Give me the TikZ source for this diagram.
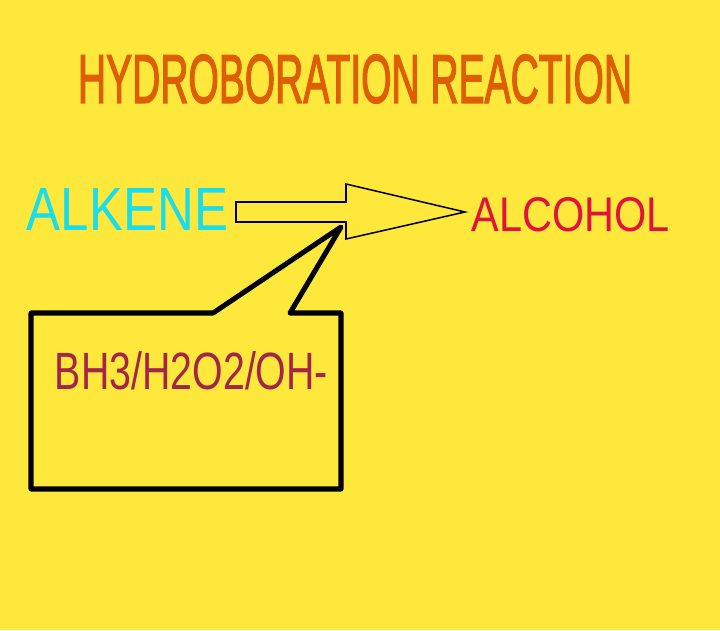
\documentclass[tikz,border=0pt]{standalone}
\usepackage{fontspec}
\setmainfont{Liberation Sans}
\newfontfamily\titlefont[FakeBold=2.5]{Liberation Sans}
\usepackage{graphicx}
\definecolor{bgyellow}{HTML}{FDE83B}
\definecolor{titleorange}{HTML}{DE5E02}
\definecolor{alkcyan}{HTML}{1ADDEB}
\definecolor{alcred}{HTML}{E1133C}
\definecolor{reagent}{HTML}{A3254A}

\begin{document}
\begin{tikzpicture}[x=0.03cm, y=-0.03cm, label/.style={inner sep=0pt, outer sep=0pt}]
\fill[bgyellow] (0,0) rectangle (720,630);
\useasboundingbox (0,0) rectangle (720,630);

\coordinate (s1) at (236,202);
\coordinate (s2) at (346,202);
\coordinate (h1) at (346,184);
\coordinate (tip) at (465,212);
\coordinate (h2) at (346,239);
\coordinate (s3) at (346,222);
\coordinate (s4) at (236,222);

\node[label, titleorange] (title) at (355,79) {\resizebox{16.62cm}{1.44cm}{\titlefont HYDROBORATION REACTION}};
\node[label, alkcyan] (alkene) at (127.5,209) {\resizebox{6.03cm}{1.26cm}{ALKENE}};
\node[label, alcred] (alcohol) at (571,215) {\resizebox{5.94cm}{1.02cm}{ALCOHOL}};

% reaction arrow
\draw[line width=1.3pt, line join=miter, fill=bgyellow] (s1) -- (s2) -- (h1) -- (tip) -- (h2) -- (s3) -- (s4) -- cycle;

% callout with the reagents
\coordinate (c1) at (213,313);
\coordinate (ctip) at (341,227);
\coordinate (c2) at (290,313);
\coordinate (br) at (341,313);
\coordinate (bbr) at (341,489);
\coordinate (bbl) at (31,489);
\coordinate (bl) at (31,313);
\draw[line width=4.3pt, line join=round] (c1) -- (ctip) -- (c2) -- (br) -- (bbr) -- (bbl) -- (bl) -- cycle;

\node[label, reagent] (reagents) at (191.5,371) {\resizebox{8.19cm}{1.14cm}{BH3/H2O2/OH-}};
\end{tikzpicture}
\end{document}
